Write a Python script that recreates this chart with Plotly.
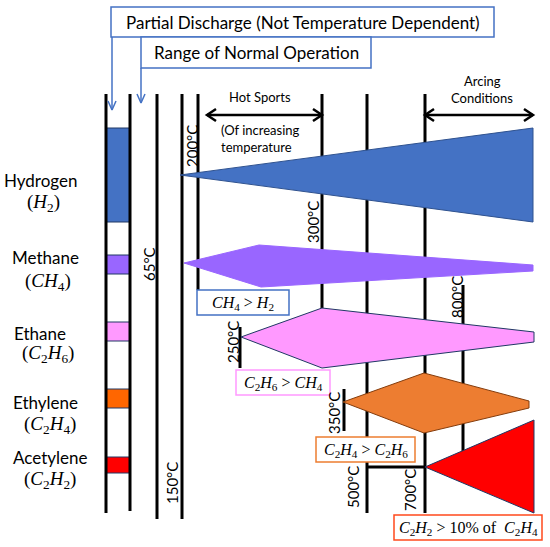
import plotly.graph_objects as go

# ---------------------------------------------------------------
# Data: diagram geometry in picture units (x to the right, y down)
# ---------------------------------------------------------------
W, H = 550, 547

gas_names = ["Hydrogen", "Methane", "Ethane", "Ethylene", "Acetylene"]
gas_formulas = ["(<i>H</i><sub>2</sub>)", "(<i>CH</i><sub>4</sub>)",
                "(<i>C</i><sub>2</sub><i>H</i><sub>6</sub>)",
                "(<i>C</i><sub>2</sub><i>H</i><sub>4</sub>)",
                "(<i>C</i><sub>2</sub><i>H</i><sub>2</sub>)"]
name_x = [40, 45, 40, 45, 50]
name_y = [180, 257, 333, 402, 457]
formula_x = [43, 48, 48, 50, 50]
formula_y = [203, 282, 354, 425, 480]

# coloured swatches inside the left "tube"
swatch_top = [128, 255, 322, 389, 457]
swatch_bottom = [222, 274, 341, 408, 473]
swatch_colors = ["#4472C4", "#9966FF", "#FF99FF", "#FF6600", "#FF0000"]
tube_left, tube_right = 106, 130

# vertical black rules: x, top, bottom
rule_x = [106, 130, 157, 182, 198, 322, 367, 425, 463, 240, 344]
rule_top = [94, 94, 94, 94, 94, 94, 94, 94, 285, 327, 389]
rule_bottom = [513, 511, 519, 519, 290, 308, 513, 513, 455, 368, 431]
link_x = [366, 425]
link_y = [467, 467]

# gas envelopes
h2_x = [180, 533, 533]
h2_y = [175, 128, 222]
ch4_x = [184, 259, 533, 533, 261]
ch4_y = [263, 245, 265, 271, 287]
c2h6_x = [241, 322, 534, 534, 322]
c2h6_y = [337, 308, 332, 342, 368]
c2h4_x = [343, 424, 529, 529, 424]
c2h4_y = [402, 373, 401, 408, 433]
c2h2_x = [425, 534, 534]
c2h2_y = [467, 420, 513]
poly_colors = ["#4472C4", "#9966FF", "#FF99FF", "#ED7D31", "#FF0000"]
poly_lines = ["#2F528F", "#9966FF", "#203864", "#843C0C", "#203864"]

# temperature labels (rotated)
temp_labels = ["65°C", "150°C", "200°C", "250°C", "300°C", "350°C", "500°C", "700°C", "800°C"]
temp_x = [149, 172, 192, 233, 313, 334, 353, 410, 457]
temp_y = [264, 483, 146, 342, 222, 413, 487, 490, 297]

# condition boxes
cond_text = ["<i>CH</i><sub>4</sub> > <i>H</i><sub>2</sub>",
             "<i>C</i><sub>2</sub><i>H</i><sub>6</sub> > <i>CH</i><sub>4</sub>",
             "<i>C</i><sub>2</sub><i>H</i><sub>4</sub> > <i>C</i><sub>2</sub><i>H</i><sub>6</sub>",
             "<i>C</i><sub>2</sub><i>H</i><sub>2</sub> > 10% of  <i>C</i><sub>2</sub><i>H</i><sub>4</sub>"]
cond_x0 = [197, 236, 316, 394]
cond_x1 = [289, 330, 415, 542]
cond_y0 = [290, 370, 437, 515]
cond_y1 = [315, 395, 462, 540]
cond_border = ["#4472C4", "#FF99FF", "#ED7D31", "#FF4A1C"]

# header boxes
head_text = ["Partial Discharge (Not Temperature Dependent)", "Range of Normal Operation"]
head_x0 = [111, 141]
head_x1 = [494, 371]
head_y0 = [7, 37]
head_y1 = [37, 68]
pointer_x = [112, 141]
pointer_tip = [110, 103]

# double arrows (Hot Sports, Arcing)
span_x0 = [207, 425]
span_x1 = [322, 533]
span_y = [115, 115]

SANS = "Lato"
MATH = "Liberation Serif"
BLACK = "#000000"

fig = go.Figure()

# swatches
for t, b, c in zip(swatch_top, swatch_bottom, swatch_colors):
    fig.add_trace(go.Scatter(x=[tube_left, tube_right, tube_right, tube_left, tube_left],
                             y=[t, t, b, b, t], mode="lines", fill="toself",
                             fillcolor=c, line=dict(color="#203864", width=1),
                             hoverinfo="skip"))

# rules
for x, t, b in zip(rule_x, rule_top, rule_bottom):
    fig.add_trace(go.Scatter(x=[x, x], y=[t, b], mode="lines",
                             line=dict(color=BLACK, width=3), hoverinfo="skip"))
fig.add_trace(go.Scatter(x=link_x, y=link_y, mode="lines",
                         line=dict(color=BLACK, width=3), hoverinfo="skip"))

# envelopes
polys = [(h2_x, h2_y), (ch4_x, ch4_y), (c2h6_x, c2h6_y), (c2h4_x, c2h4_y), (c2h2_x, c2h2_y)]
for (px, py), fc, lc in zip(polys, poly_colors, poly_lines):
    fig.add_trace(go.Scatter(x=px + px[:1], y=py + py[:1], mode="lines", fill="toself",
                             fillcolor=fc, line=dict(color=lc, width=1), hoverinfo="skip"))

# double arrows with open heads
hw, hh = 9, 6
for x0, x1, y in zip(span_x0, span_x1, span_y):
    fig.add_trace(go.Scatter(x=[x0, x1], y=[y, y], mode="lines",
                             line=dict(color=BLACK, width=2.5), hoverinfo="skip"))
    for xe, d in ((x0, 1), (x1, -1)):
        fig.add_trace(go.Scatter(x=[xe + d * hw, xe, xe + d * hw], y=[y - hh, y, y + hh],
                                 mode="lines", line=dict(color=BLACK, width=2.5),
                                 hoverinfo="skip"))

# blue pointers from header boxes
for x, y0, tip in zip(pointer_x, head_y1, pointer_tip):
    fig.add_trace(go.Scatter(x=[x, x], y=[y0, tip], mode="lines",
                             line=dict(color="#4472C4", width=1.5), hoverinfo="skip"))
    fig.add_trace(go.Scatter(x=[x - 4, x, x + 4], y=[tip - 9, tip, tip - 9], mode="lines",
                             line=dict(color="#4472C4", width=1.5), hoverinfo="skip"))

shapes = []
annotations = []

for txt, x0, x1, y0, y1 in zip(head_text, head_x0, head_x1, head_y0, head_y1):
    shapes.append(dict(type="rect", xref="x", yref="y", x0=x0, x1=x1, y0=y0, y1=y1,
                       line=dict(color="#4472C4", width=1.5), fillcolor="white"))
    annotations.append(dict(x=(x0 + x1) / 2, y=(y0 + y1) / 2, text=txt, showarrow=False,
                            font=dict(family=SANS, size=17, color=BLACK)))

for txt, x0, x1, y0, y1, bc in zip(cond_text, cond_x0, cond_x1, cond_y0, cond_y1, cond_border):
    shapes.append(dict(type="rect", xref="x", yref="y", x0=x0, x1=x1, y0=y0, y1=y1,
                       line=dict(color=bc, width=1.5), fillcolor="white"))
    annotations.append(dict(x=(x0 + x1) / 2, y=(y0 + y1) / 2 + 1, text=txt, showarrow=False,
                            font=dict(family=MATH, size=16, color=BLACK)))

for n, nx, ny, f, fx, fy in zip(gas_names, name_x, name_y, gas_formulas, formula_x, formula_y):
    annotations.append(dict(x=nx, y=ny, text=n, showarrow=False,
                            font=dict(family=SANS, size=17, color=BLACK)))
    annotations.append(dict(x=fx, y=fy, text=f, showarrow=False,
                            font=dict(family=MATH, size=19, color=BLACK)))

for t, x, y in zip(temp_labels, temp_x, temp_y):
    annotations.append(dict(x=x, y=y, text=t, showarrow=False, textangle=-90,
                            font=dict(family=SANS, size=15, color=BLACK)))

annotations += [
    dict(x=260, y=97, text="Hot Sports", showarrow=False,
         font=dict(family=SANS, size=13, color=BLACK)),
    dict(x=219, y=130, text="(Of increasing", showarrow=False, xanchor="left",
         font=dict(family=SANS, size=13, color=BLACK)),
    dict(x=219, y=147, text="temperature", showarrow=False, xanchor="left",
         font=dict(family=SANS, size=13, color=BLACK)),
    dict(x=482, y=81, text="Arcing", showarrow=False,
         font=dict(family=SANS, size=13, color=BLACK)),
    dict(x=482, y=98, text="Conditions", showarrow=False,
         font=dict(family=SANS, size=13, color=BLACK)),
]

fig.update_layout(
    width=W, height=H,
    margin=dict(l=0, r=0, t=0, b=0),
    paper_bgcolor="white", plot_bgcolor="white",
    showlegend=False,
    xaxis=dict(range=[0, W], visible=False, fixedrange=True),
    yaxis=dict(range=[H, 0], visible=False, fixedrange=True),
    shapes=shapes,
    annotations=annotations,
)

# the page body has a default 8px margin; drop it so the picture sits at 0,0
fig.write_html("out.html", config={"displayModeBar": False},
               post_script="document.body.style.margin='0';")
